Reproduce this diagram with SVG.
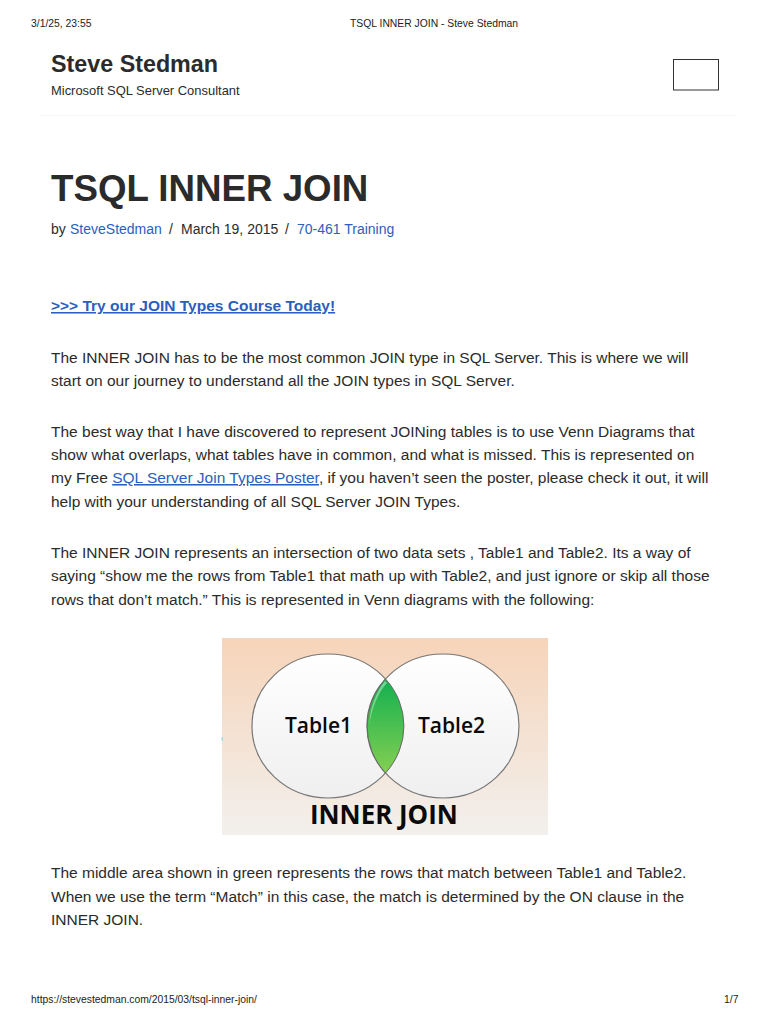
<svg xmlns="http://www.w3.org/2000/svg" width="768" height="1024" viewBox="0 0 768 1024">
<style>
text{font-family:"Liberation Sans",Arial,sans-serif;fill:#2b2b2b}
.b{font-size:15.5px}
.m{font-size:14px}
.s{font-size:10.35px;fill:#222}
.l{fill:#2c5ebd}
.k{font-family:"Open Sans","Noto Sans",sans-serif;fill:#0a0a0a;font-weight:600}
.e{stroke:#777;stroke-width:1.2}
</style>
<defs>
<linearGradient id="bg" x1="0" y1="0" x2="0" y2="1"><stop offset="0" stop-color="#f6d4b9"/><stop offset="1" stop-color="#f2f0ed"/></linearGradient>
<linearGradient id="c" x1="0" y1="0" x2="0" y2="1"><stop offset="0" stop-color="#ffffff"/><stop offset="1" stop-color="#efefef"/></linearGradient>
<linearGradient id="g" x1="0" y1="0" x2="0" y2="1"><stop offset="0" stop-color="#12b04f"/><stop offset="1" stop-color="#84cf52"/></linearGradient>
</defs>
<rect width="768" height="1024" fill="#fff"/>
<text class="s" x="31" y="27">3/1/25, 23:55</text>
<text class="s" x="350" y="27">TSQL INNER JOIN - Steve Stedman</text>
<text x="51" y="72" font-size="23.3" font-weight="700">Steve Stedman</text>
<text x="51" y="95" font-size="12.95">Microsoft SQL Server Consultant</text>
<rect x="673.5" y="59.5" width="45" height="30.5" fill="#fff" stroke="#333"/>
<rect x="40" y="115" width="696" height="1" fill="#f7f7f7"/>
<text x="51" y="201" font-size="36.7" font-weight="700">TSQL INNER JOIN</text>
<text class="m" x="51" y="234">by</text>
<text class="m l" x="70" y="234">SteveStedman</text>
<text class="m" x="169" y="234">/</text>
<text class="m" x="181" y="234">March 19, 2015</text>
<text class="m" x="285" y="234">/</text>
<text class="m l" x="297" y="234">70-461 Training</text>
<text class="b l" x="51" y="311" font-weight="700" text-decoration="underline">&gt;&gt;&gt; Try our JOIN Types Course Today!</text>
<text class="b" x="51" y="362.500">The INNER JOIN has to be the most common JOIN type in SQL Server. This is where we will</text>
<text class="b" x="51" y="386">start on our journey to understand all the JOIN types in SQL Server.</text>
<text class="b" x="51" y="436.500">The best way that I have discovered to represent JOINing tables is to use Venn Diagrams that</text>
<text class="b" x="51" y="460">show what overlaps, what tables have in common, and what is missed.  This is represented on</text>
<text class="b" x="51" y="483">my Free <tspan class="l" text-decoration="underline">SQL Server Join Types Poster</tspan>, if you haven’t seen the poster, please check it out, it will</text>
<text class="b" x="51" y="507">help with your understanding of all SQL Server JOIN Types.</text>
<text class="b" x="51" y="557.500">The INNER JOIN represents an intersection of two data sets , Table1 and Table2. Its a way of</text>
<text class="b" x="51" y="581">saying “show me the rows from Table1 that math up with Table2, and just ignore or skip all those</text>
<text class="b" x="51" y="605">rows that don’t match.” This is represented in Venn diagrams with the following:</text>
<rect x="222" y="638" width="326" height="197" fill="url(#bg)"/>
<rect x="221.500" y="737" width="1.500" height="4" fill="#a8d8f0"/>
<g id="table1"><ellipse class="e" cx="328" cy="726" rx="76" ry="72" fill="url(#c)"/></g>
<g id="table2"><ellipse class="e" cx="443" cy="726" rx="76" ry="72" fill="url(#c)"/></g>
<g id="overlap"><path d="M385.500 679A76 72 0 0 1 385.500 773A76 72 0 0 1 385.500 679Z" fill="url(#g)" stroke="#666"/><path d="M385 681C376 692 370 708 369.500 724C372 708 378 692 387 683Z" fill="#fff" fill-opacity=".4"/></g>
<text class="k" x="285" y="733" font-size="21">Table1</text>
<text class="k" x="418" y="733" font-size="21">Table2</text>
<text class="k" x="310" y="824" font-size="25.900" style="font-weight:700">INNER JOIN</text>
<text class="b" x="51" y="878">The middle area shown in green represents the rows that match between Table1 and Table2.</text>
<text class="b" x="51" y="902">When we use the term “Match” in this case, the match is determined by the ON clause in the</text>
<text class="b" x="51" y="925">INNER JOIN.</text>
<text class="s" x="31" y="1003">https://stevestedman.com/2015/03/tsql-inner-join/</text>
<text class="s" x="724" y="1003">1/7</text>
</svg>
